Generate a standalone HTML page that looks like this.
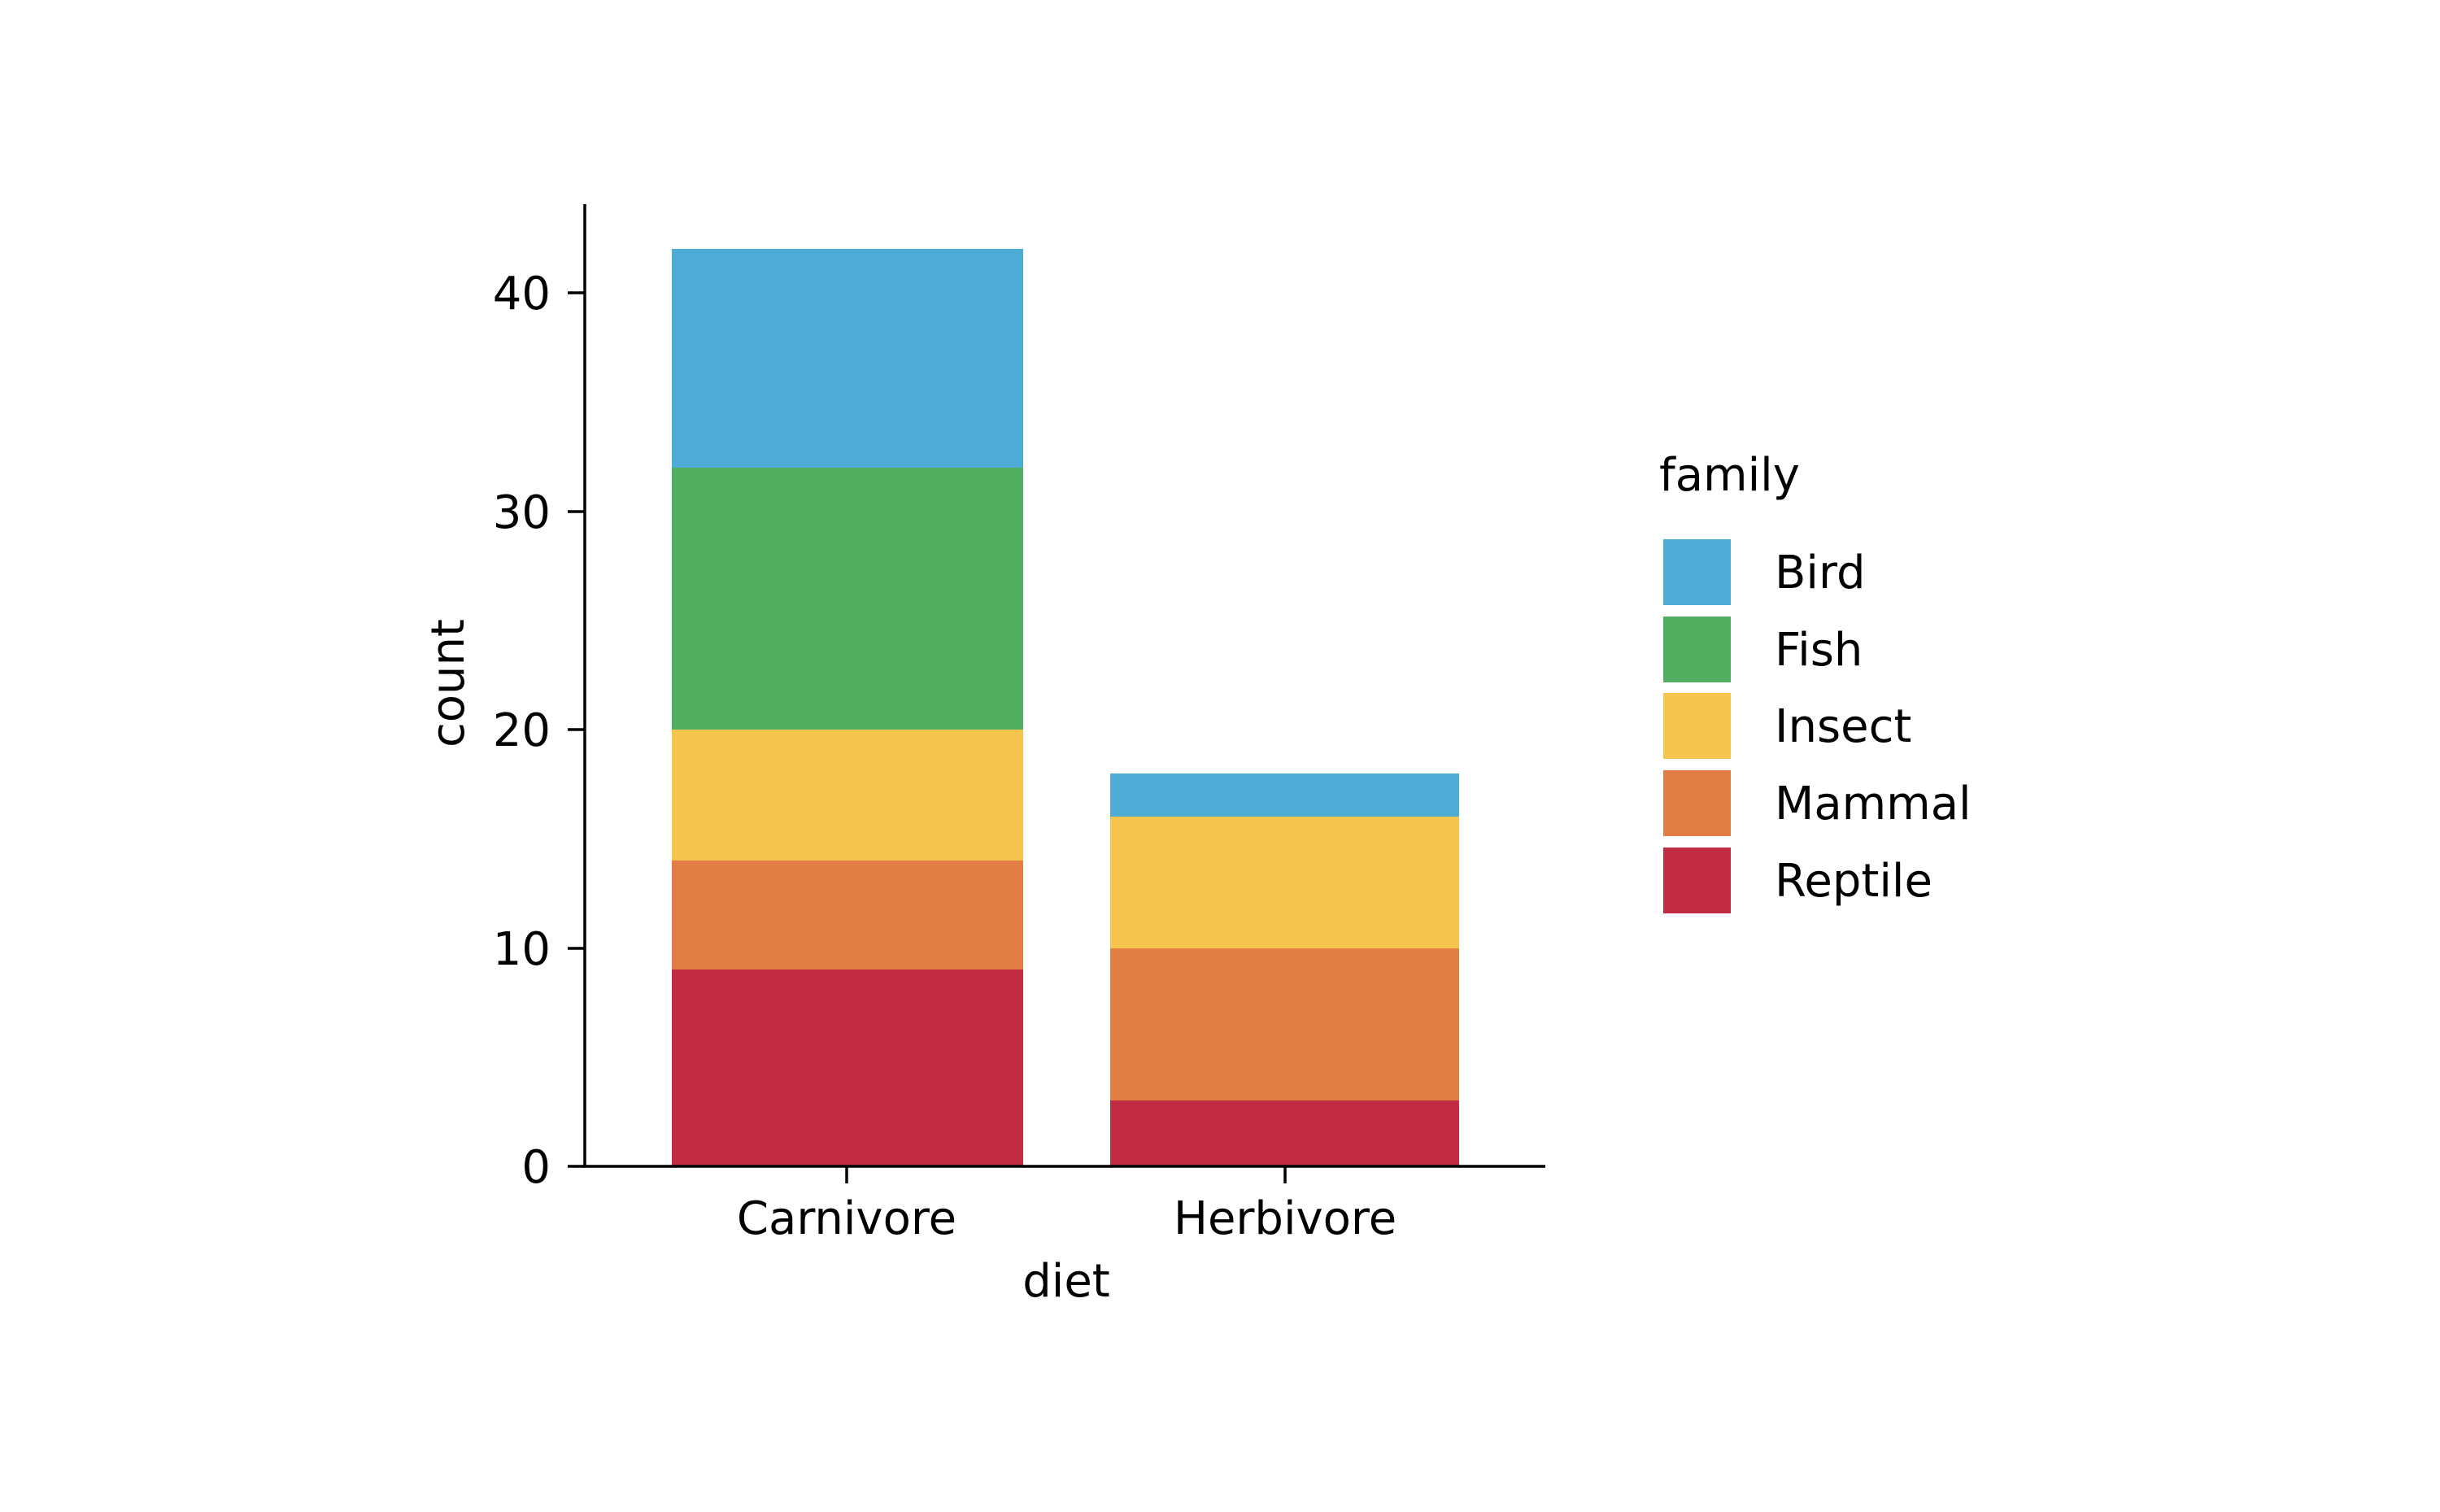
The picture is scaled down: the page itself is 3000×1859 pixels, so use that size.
<!DOCTYPE html>
<html><head><style>body{margin:0;background:#fff}</style></head><body>
<svg width="3000" height="1854" xmlns="http://www.w3.org/2000/svg" font-family="'DejaVu Sans','Liberation Sans',sans-serif" fill="#000">
<g>
<rect x="826" y="1192" width="432" height="242" fill="#C12C44"/>
<rect x="826" y="1058" width="432" height="134" fill="#E17E46"/>
<rect x="826" y="897" width="432" height="161" fill="#F5C550"/>
<rect x="826" y="575" width="432" height="322" fill="#52AE61"/>
<rect x="826" y="306" width="432" height="269" fill="#4EACD7"/>
<rect x="1365" y="1353" width="429" height="81" fill="#C12C44"/>
<rect x="1365" y="1166" width="429" height="187" fill="#E17E46"/>
<rect x="1365" y="1004" width="429" height="162" fill="#F5C550"/>
<rect x="1365" y="951" width="429" height="53" fill="#4EACD7"/>
</g>
<g stroke="#000" stroke-width="3.5" fill="none">
<path d="M719 251V1434H1900"/>
<path d="M698 1434h21M698 1166h21M698 897h21M698 629h21M698 360h21"/>
<path d="M1041 1434v21M1580 1434v21"/>
</g>
<g font-size="56" text-anchor="end">
<text x="677" y="1454">0</text><text x="677" y="1186">10</text><text x="677" y="917">20</text><text x="677" y="649">30</text><text x="677" y="380">40</text>
</g>
<g font-size="56" text-anchor="middle">
<text x="1041" y="1517">Carnivore</text><text x="1580" y="1517">Herbivore</text>
<text x="1311" y="1594">diet</text>
<text transform="translate(570 840) rotate(-90)">count</text>
</g>
<text x="2040" y="603" font-size="56">family</text>
<g>
<rect x="2045" y="663" width="83" height="81" fill="#4EACD7"/>
<rect x="2045" y="758" width="83" height="81" fill="#52AE61"/>
<rect x="2045" y="852" width="83" height="81" fill="#F5C550"/>
<rect x="2045" y="947" width="83" height="81" fill="#E17E46"/>
<rect x="2045" y="1042" width="83" height="81" fill="#C12C44"/>
</g>
<g font-size="56">
<text x="2182" y="723">Bird</text><text x="2182" y="818">Fish</text><text x="2182" y="912">Insect</text><text x="2182" y="1007">Mammal</text><text x="2182" y="1102">Reptile</text>
</g>
</svg>
</body></html>
